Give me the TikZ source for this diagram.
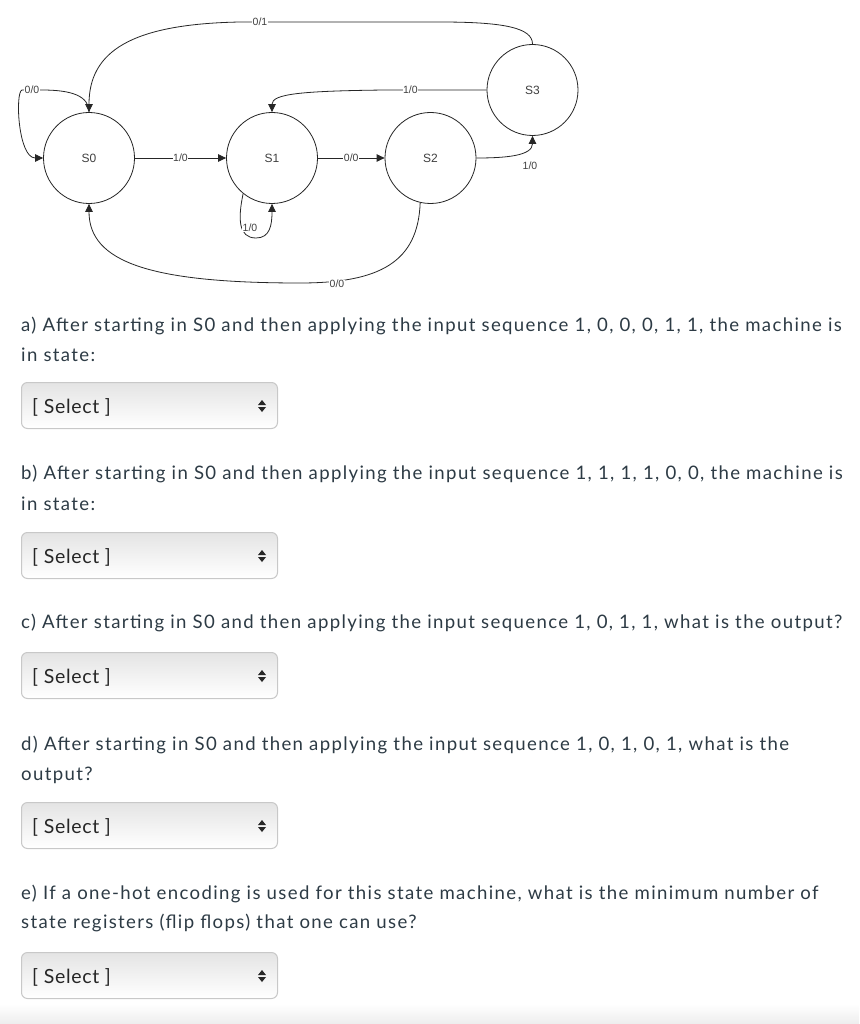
\documentclass[tikz,border=0pt]{standalone}
\usepackage{fontspec}
\setmainfont{Lato}
\newfontfamily\qfont[LetterSpace=7.3]{Lato}
\newfontfamily\sfont[LetterSpace=3.5]{Lato}
\newfontfamily\diag{Liberation Sans}
\usetikzlibrary{arrows.meta}
\definecolor{qtxt}{HTML}{2D3B45}
\definecolor{boxedge}{HTML}{C8C8C8}
\definecolor{boxtop}{HTML}{E4E4E4}
\begin{document}
\begin{tikzpicture}[x=1pt,y=-1pt,
  state/.style={circle,draw=black!85,line width=0.8pt,minimum size=91pt,inner sep=0pt,font=\diag\fontsize{12}{12}\selectfont,text=black!75},
  edge/.style={draw=black!85,line width=0.8pt,-{Triangle[length=8pt,width=7.5pt]}},
  lbl/.style={fill=white,inner sep=0.6pt,font=\diag\fontsize{10.5}{10.5}\selectfont,text=black!75},
  qtext/.style={anchor=base west,inner sep=0pt,text=qtxt,font=\qfont\fontsize{18.6}{22}\selectfont},
  selbox/.style={draw=boxedge,line width=1pt,rounded corners=6pt,top color=boxtop,bottom color=white,minimum width=256pt,minimum height=46pt,inner sep=0pt,anchor=north west},
  seltext/.style={anchor=base west,inner sep=0pt,text=black!85,font=\sfont\fontsize{19.5}{22}\selectfont},
  updown/.style={fill=black!85,draw=none}]
\useasboundingbox (0,0) rectangle (859,1024);
\fill[white] (0,0) rectangle (859,1024);
\shade[top color=white,bottom color=black!7] (0,1004) rectangle (859,1024);

% states
\node[state] (S0) at (89,158) {S0};
\node[state] (S1) at (272,158) {S1};
\node[state] (S2) at (430.5,158) {S2};
\node[state] (S3) at (532.5,90) {S3};

% connectors
\draw[edge] (S0) -- node[lbl] (l01) {1/0} (S1);
\draw[edge] (S1) -- node[lbl] (l12) {0/0} (S2);
\draw[edge] (S2.east) .. controls (505,158) and (532.5,156) .. (S3.south);
\node[lbl] (l23) at (530,166) {1/0};
\draw[edge] (S3.west) -- node[lbl,pos=0.75] (l31) {1/0} (385,90)
  .. controls (300,91) and (272,94) .. (S1.north);
\draw[edge] (S3.north) .. controls (532.5,28) and (505,22) .. (440,22)
  -- node[lbl,pos=0.9] (l30) {0/1} (240,22)
  .. controls (130,24) and (89,52) .. (S0.north);
\draw[edge] (S0.north) .. controls (89,96) and (72,90) .. (42,90)
  -- node[lbl] (l00) {0/0} (22,90)
  .. controls (15,92) and (18,158) .. (S0.west);
\draw[edge] (S1.231) .. controls (238,218) and (238,238) .. (256,238)
  .. controls (270,238) and (272,225) .. (S1.south);
\node[lbl] (l11) at (250,228) {1/0};
\draw[edge] (S2.257) .. controls (418,262) and (380,283) .. (300,283)
  .. controls (150,283) and (89,262) .. (S0.south);
\node[lbl] (l20) at (337,284) {0/0};

% questions
\node[qtext] (qa1) at (21,331) {a) After starting in S0 and then applying the input sequence 1, 0, 0, 0, 1, 1, the machine is};
\node[qtext] (qa2) at (21,361) {in state:};
\node[qtext] (qb1) at (21,479) {b) After starting in S0 and then applying the input sequence 1, 1, 1, 1, 0, 0, the machine is};
\node[qtext] (qb2) at (21,510) {in state:};
\node[qtext] (qc1) at (21,628) {c) After starting in S0 and then applying the input sequence 1, 0, 1, 1, what is the output?};
\node[qtext] (qd1) at (21,750) {d) After starting in S0 and then applying the input sequence 1, 0, 1, 0, 1, what is the};
\node[qtext] (qd2) at (21,780) {output?};
\node[qtext] (qe1) at (21,899) {e) If a one-hot encoding is used for this state machine, what is the minimum number of};
\node[qtext] (qe2) at (21,928) {state registers (flip flops) that one can use?};

% select boxes
\foreach \n/\t in {a/382,b/532,c/652,d/802,e/952}{
  \node[selbox] (box\n) at (21,\t) {};
  \node[seltext] (sel\n) at (32,\t+31) {[ Select ]};
  \fill[updown] (262,\t+18) -- (266,\t+23) -- (258,\t+23) -- cycle;
  \fill[updown] (262,\t+30) -- (266,\t+25) -- (258,\t+25) -- cycle;
}
\end{tikzpicture}
\end{document}
